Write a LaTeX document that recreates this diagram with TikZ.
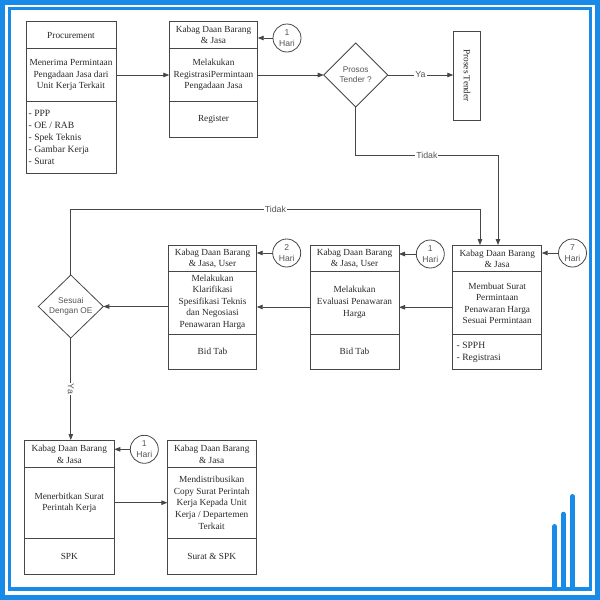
\documentclass[tikz,border=0pt]{standalone}
\usepackage{fontspec}
\setmainfont{Liberation Serif}
\newfontfamily\lsans{Liberation Sans}
\usetikzlibrary{shapes.geometric,arrows.meta}
\definecolor{frameblue}{RGB}{24,138,232}
\definecolor{linegray}{RGB}{70,70,70}
\definecolor{txt}{RGB}{40,40,40}
\definecolor{stxt}{RGB}{85,85,85}
\tikzset{
  box/.style={draw=linegray, line width=0.8pt, rectangle, inner sep=0pt, outer sep=0pt},
  divst/.style={draw=linegray, line width=0.8pt},
  txtst/.style={align=center, text=txt, inner sep=0pt, font=\fontsize{9.3}{11.6}\selectfont},
  lst/.style={align=left, anchor=west, text=txt, inner sep=0pt, font=\fontsize{9.6}{12}\selectfont},
  dec/.style={diamond, draw=linegray, line width=0.8pt, shape aspect=1, inner sep=0pt, outer sep=0pt,
    text=stxt, align=center, font=\lsans\fontsize{8.3}{10}\selectfont},
  hari/.style={circle, draw=linegray, line width=0.8pt, minimum size=28pt, inner sep=0pt, outer sep=0pt,
    text=stxt, align=center, font=\lsans\fontsize{8.6}{10.5}\selectfont},
  arr/.style={draw=linegray, line width=0.8pt, -{Triangle[length=6pt,width=4.5pt]}},
  lbl/.style={fill=white, text=stxt, inner sep=1pt, font=\lsans\fontsize{8.8}{10}\selectfont}
}
\newcommand\divline[2]{\draw[divst] (#1.west |- 0,#2) -- (#1.east |- 0,#2);}
\begin{document}
\begin{tikzpicture}[x=1pt,y=-1pt]
\useasboundingbox (0,0) rectangle (600,600);
% frame
\draw[frameblue, line width=5pt] (2.5,2.2) rectangle (597.5,597);
\draw[frameblue, line width=3.5pt] (9.6,8.5) rectangle (590.5,589);
\foreach \bx/\by in {554.5/526.5, 563.3/514.2, 572.3/496.5}
  \draw[frameblue, line width=5pt, line cap=round] (\bx,588) -- (\bx,\by);

% Box A: Procurement
\node[box, minimum width=90pt, minimum height=151.6pt] (A) at (71,97.5) {};
\divline{A}{48.3}\divline{A}{101.7}
\node[txtst] (Ah) at (71,35) {Procurement};
\node[txtst] (Am) at (71,75) {Menerima Permintaan\\Pengadaan Jasa dari\\Unit Kerja Terkait};
\node[lst] (Af) at (28.5,137.5) {- PPP\\- OE / RAB\\- Spek Teknis\\- Gambar Kerja\\- Surat};

% Box B: Registrasi
\node[box, minimum width=88.4pt, minimum height=116pt] (B) at (213.5,79.7) {};
\divline{B}{48.3}\divline{B}{101}
\node[txtst] (Bh) at (213.5,35) {Kabag Daan Barang\\\& Jasa};
\node[txtst] (Bm) at (213.5,75) {Melakukan\\RegistrasiPermintaan\\Pengadaan Jasa};
\node[txtst] (Bf) at (213.5,119) {Register};
\node[hari] (c1) at (287,38) {1\\Hari};

% Diamond D
\node[dec, minimum width=64pt, minimum height=64pt] (D) at (355.7,75) {Prosos\\Tender ?};

% Box C: Proses Tender
\node[box, minimum width=27.4pt, minimum height=89pt] (C) at (467,75.5) {};
\node[txtst, rotate=-90] (Ct) at (467,75.5) {Proses Tender};

% Box E: SPPH
\node[box, minimum width=89pt, minimum height=124.5pt] (E) at (497.2,307.25) {};
\divline{E}{271.5}\divline{E}{334}
\node[txtst] (Eh) at (497.2,258.7) {Kabag Daan Barang\\\& Jasa};
\node[txtst] (Em) at (497.2,303.3) {Membuat Surat\\Permintaan\\Penawaran Harga\\Sesuai Permintaan};
\node[lst] (Ef) at (456.5,352) {- SPPH\\- Registrasi};
\node[hari] (c4) at (572.5,253) {7\\Hari};

% Box F: Evaluasi
\node[box, minimum width=89pt, minimum height=124.5pt] (F) at (354.5,307.25) {};
\divline{F}{271.5}\divline{F}{334}
\node[txtst] (Fh) at (354.5,258.4) {Kabag Daan Barang\\\& Jasa, User};
\node[txtst] (Fm) at (354.5,302.3) {Melakukan\\Evaluasi Penawaran\\Harga};
\node[txtst] (Ff) at (354.5,351.5) {Bid Tab};
\node[hari] (c3) at (430.3,254) {1\\Hari};

% Box G: Klarifikasi
\node[box, minimum width=88.4pt, minimum height=124.5pt] (G) at (212.5,307.25) {};
\divline{G}{271.5}\divline{G}{334}
\node[txtst] (Gh) at (212.5,258.4) {Kabag Daan Barang\\\& Jasa, User};
\node[txtst] (Gm) at (212.5,302) {Melakukan\\Klarifikasi\\Spesifikasi Teknis\\dan Negosiasi\\Penawaran Harga};
\node[txtst] (Gf) at (212.5,351.5) {Bid Tab};
\node[hari] (c2) at (286.7,253) {2\\Hari};

% Diamond H
\node[dec, minimum width=65pt, minimum height=63pt] (H) at (70.8,306.5) {Sesuai\\Dengan OE};

% Box I
\node[box, minimum width=90pt, minimum height=134pt] (I) at (69.3,507) {};
\divline{I}{467.3}\divline{I}{538.3}
\node[txtst] (Ih) at (69.3,454.2) {Kabag Daan Barang\\\& Jasa};
\node[txtst] (Im) at (69.3,502.8) {Menerbitkan Surat\\Perintah Kerja};
\node[txtst] (If) at (69.3,556) {SPK};
\node[hari] (c5) at (144.3,449.3) {1\\Hari};

% Box J
\node[box, minimum width=88.7pt, minimum height=134pt] (J) at (211.7,507) {};
\divline{J}{467.3}\divline{J}{538.3}
\node[txtst] (Jh) at (211.7,454.2) {Kabag Daan Barang\\\& Jasa};
\node[txtst] (Jm) at (211.7,502.8) {Mendistribusikan\\Copy Surat Perintah\\Kerja Kepada Unit\\Kerja / Departemen\\Terkait};
\node[txtst] (Jf) at (211.7,556.5) {Surat \& SPK};

% connectors
\draw[arr] (A.east |- 0,75) -- (B.west |- 0,75);
\draw[arr] (B.east |- 0,75) -- (D.west);
\draw[arr] (D.east) -- node[lbl]{Ya} (C.west |- D.east);
\draw[arr] (c1.west) -- (B.east |- c1.west);
\coordinate (k1) at (498,155.3);
\draw[arr] (D.south) |- node[lbl,pos=0.75]{Tidak} (k1) -- (k1 |- E.north);
\coordinate (k2) at (480,209);
\draw[arr] (H.north) |- node[lbl,pos=0.75]{Tidak} (k2) -- (k2 |- E.north);
\draw[arr] (c4.west) -- (E.east |- c4.west);
\draw[arr] (E.west |- 0,307.3) -- (F.east |- 0,307.3);
\draw[arr] (c3.west) -- (F.east |- c3.west);
\draw[arr] (F.west |- 0,307) -- (G.east |- 0,307);
\draw[arr] (c2.west) -- (G.east |- c2.west);
\draw[arr] (G.west |- H.east) -- (H.east);
\draw[arr] (H.south) -- node[lbl, rotate=-90]{Ya} (H.south |- I.north);
\draw[arr] (c5.west) -- (I.east |- c5.west);
\draw[arr] (I.east |- 0,502.7) -- (J.west |- 0,502.7);
\end{tikzpicture}
\end{document}
